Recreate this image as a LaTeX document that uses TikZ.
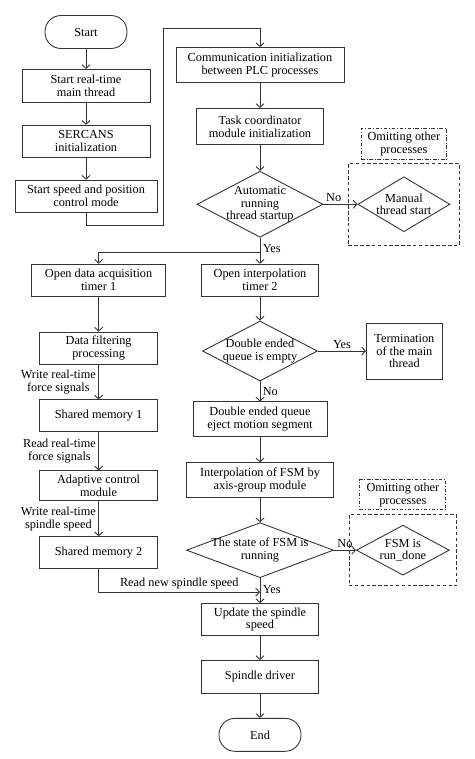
\documentclass[tikz,border=0pt]{standalone}
\usepackage{fontspec}
\setmainfont{Liberation Serif}
\usetikzlibrary{arrows.meta, positioning, shapes.geometric, fit, calc}

\begin{document}
\begin{tikzpicture}[
        x=0.03cm, y=-0.03cm,
        line width=0.75pt,
        font=\fontsize{10.5pt}{11pt}\selectfont,
        box/.style={
            draw=black!80,
            align=center,
            minimum height=0.96cm,
            inner sep=2pt
        },
        terminal/.style={box, rounded corners=0.48cm, minimum width=2.46cm, minimum height=0.99cm},
        decision/.style={draw=black!80, diamond, inner sep=0pt},
        group/.style={draw=black!80, dash pattern=on 3pt off 2pt, inner sep=0pt},
        omitbox/.style={box, dash pattern=on 3pt off 1.5pt on 0.8pt off 1.5pt},
        flowlabel/.style={inner sep=2pt, align=center},
        arrow/.style={draw=black!80, -{Straight Barb[length=1.1mm, width=2.4mm]}}
    ]
        \useasboundingbox (0,0) rectangle (474,759);

        \node[terminal] (start) at (86,32) {Start};
        \node[box, minimum width=3.84cm, minimum height=0.99cm, below=0.6cm of start] (mainthread) {Start real-time\\main thread};
        \node[box, minimum width=3.84cm, below=0.66cm of mainthread] (sercans) {SERCANS\\initialization};
        \node[box, minimum width=4.26cm, below=0.66cm of sercans] (speedmode) {Start speed and position\\control mode};

        \node[box, minimum width=5.04cm, minimum height=1.05cm] (comm) at (260,65) {Communication initialization\\between PLC processes};
        \node[box, minimum width=3.81cm, minimum height=1.08cm, below=0.75cm of comm] (coord) {Task coordinator\\module initialization};
        \node[decision, minimum width=3.78cm, minimum height=1.98cm, below=0.78cm of coord,
            label={[align=center, inner sep=0pt]center:{Automatic\\running\\thread startup}}] (autorun) {};
        \node[box, minimum width=3.51cm, below=0.78cm of autorun] (itimer) {Open interpolation\\timer 2};
        \node[decision, minimum width=3.45cm, minimum height=1.8cm, below=0.72cm of itimer,
            label={[align=center, inner sep=0pt]center:{Double ended\\queue is empty}}] (dequeempty) {};
        \node[box, minimum width=4.02cm, minimum height=1.05cm, below=0.6cm of dequeempty] (eject) {Double ended queue\\eject motion segment};
        \node[box, minimum width=4.41cm, minimum height=1.05cm, below=0.75cm of eject] (fsminterp) {Interpolation of FSM by\\axis-group module};
        \node[decision, minimum width=4.41cm, minimum height=1.65cm, below=0.72cm of fsminterp,
            label={[align=center, inner sep=0pt]center:{The state of FSM is\\running}}] (fsmstate) {};
        \node[box, minimum width=3.51cm, below=0.75cm of fsmstate] (update) {Update the spindle\\speed};
        \node[box, minimum width=3.51cm, minimum height=0.99cm, below=0.72cm of update] (driver) {Spindle driver};
        \node[terminal, below=0.72cm of driver] (end) {End};

        \node[box, minimum width=4.02cm, left=1.05cm of itimer] (acq) {Open data acquisition\\timer 1};
        \node[box, minimum width=3.54cm, below=1.05cm of acq] (filter) {Data filtering\\processing};
        \node[box, minimum width=3.54cm, below=1.05cm of filter] (mem1) {Shared memory 1};
        \node[box, minimum width=3.54cm, minimum height=0.9cm, below=1.14cm of mem1] (adapt) {Adaptive control\\module};
        \node[box, minimum width=3.54cm, below=1.05cm of adapt] (mem2) {Shared memory 2};

        \node[decision, minimum width=2.76cm, minimum height=1.65cm, right=1.02cm of autorun,
            label={[align=center, inner sep=0pt]center:{Manual\\thread start}}] (manual) {};
        \node[group, fit=(manual.north)(manual.south)(manual.east)(manual.west), inner xsep=0.27cm, inner ysep=0.39cm] (omitgroup1) {};
        \node[omitbox, minimum width=2.55cm, minimum height=0.93cm, above=0.09cm of omitgroup1] (omit1) {Omitting other\\processes};
        \node[box, minimum width=2.28cm, minimum height=1.68cm, right=1.44cm of dequeempty] (terminate) {Termination\\of the main\\thread};
        \node[decision, minimum width=2.79cm, minimum height=1.5cm, right=0.66cm of fsmstate,
            label={[align=center, inner sep=0pt]center:{FSM is\\run\_done}}] (rundone) {};
        \node[group, fit=(rundone.north)(rundone.south)(rundone.east)(rundone.west), inner xsep=0.21cm, inner ysep=0.3cm] (omitgroup2) {};
        \node[omitbox, minimum width=2.58cm, minimum height=0.9cm, above=0.12cm of omitgroup2] (omit2) {Omitting other\\processes};

        \coordinate (loopbottom) at (163,225);
        \coordinate (looptop) at (163,28);
        \coordinate (split) at ($(autorun.south)!0.58!(itimer.north)$);
        \coordinate (join) at ($(fsmstate.south)!0.56!(update.north)$);

        \draw[arrow] (start) -- (mainthread);
        \draw[arrow] (mainthread) -- (sercans);
        \draw[arrow] (sercans) -- (speedmode);
        \draw[arrow] (speedmode.south) |- (loopbottom) -- (looptop) -| (comm.north);
        \draw[arrow] (comm) -- (coord);
        \draw[arrow] (coord) -- (autorun);
        \draw[arrow] (autorun) -- node[flowlabel, above, pos=0.3] {No} (manual);
        \draw[arrow] (autorun) -- node[flowlabel, right, pos=0.4] {Yes} (itimer);
        \draw[arrow] (split) -| (acq.north);
        \draw[arrow] (itimer) -- (dequeempty);
        \draw[arrow] (dequeempty) -- node[flowlabel, above] {Yes} (terminate);
        \draw[arrow] (dequeempty) -- node[flowlabel, right] {No} (eject);
        \draw[arrow] (eject) -- (fsminterp);
        \draw[arrow] (fsminterp) -- (fsmstate);
        \draw[arrow] (fsmstate) -- node[flowlabel, above] {No} (rundone);
        \draw[arrow] (fsmstate) -- node[flowlabel, right, pos=0.44] {Yes} (update);
        \draw[arrow] (update) -- (driver);
        \draw[arrow] (driver) -- (end);

        \draw[arrow] (acq) -- (filter);
        \draw[arrow] (filter) -- node[flowlabel, left] {Write real-time\\force signals} (mem1);
        \draw[arrow] (mem1) -- node[flowlabel, left] {Read real-time\\force signals} (adapt);
        \draw[arrow] (adapt) -- node[flowlabel, left] {Write real-time\\spindle speed} (mem2);
        \draw[arrow] (mem2.south) |- node[flowlabel, above, pos=0.75] {Read new spindle speed} (join);
    \end{tikzpicture}
\end{document}
